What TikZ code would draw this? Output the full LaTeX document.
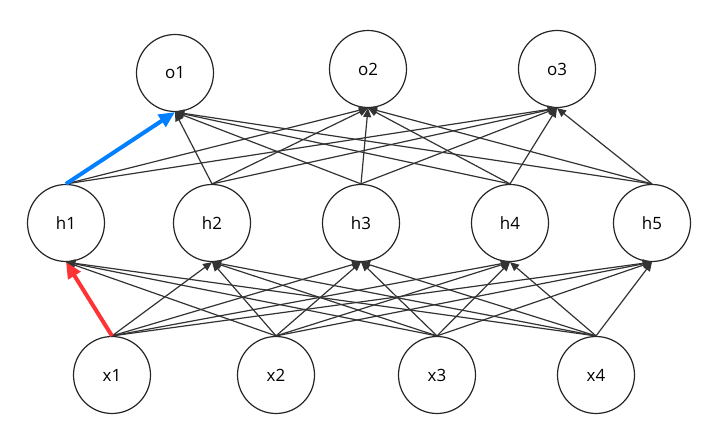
\documentclass[tikz,border=0pt]{standalone}
\usepackage{fontspec}
\setmainfont{Open Sans}
\usetikzlibrary{arrows.meta}
\begin{document}
\begin{tikzpicture}[x=1bp,y=-1bp,
  neuron/.style={circle,draw=black!85,line width=1.2bp,minimum size=77bp,inner sep=0pt,font=\fontsize{17}{20}\selectfont},
  edge/.style={draw=black!80,line width=1.2bp,-{Triangle[length=9bp,width=8bp]}},
  hot/.style={line width=4bp,-{Triangle[length=16bp,width=14bp]}}]
\useasboundingbox (0,0) rectangle (720,442);
\node[neuron] (o1) at (175,73) {o1};
\node[neuron] (o2) at (368,69) {o2};
\node[neuron] (o3) at (557,69) {o3};
\node[neuron] (h1) at (66,223) {h1};
\node[neuron] (h2) at (212,223) {h2};
\node[neuron] (h3) at (361,223) {h3};
\node[neuron] (h4) at (510,223) {h4};
\node[neuron] (h5) at (652,223) {h5};
\node[neuron] (x1) at (112,375) {x1};
\node[neuron] (x2) at (276,375) {x2};
\node[neuron] (x3) at (437,375) {x3};
\node[neuron] (x4) at (596,375) {x4};
\foreach \i in {1,2,3,4}{
  \foreach \j in {1,2,3,4,5}{
    \ifnum\i\j=11\else
    \draw[edge] (x\i.north) -- (h\j.south);
    \fi
  }}
\foreach \i in {1,2,3,4,5}{
  \foreach \j in {1,2,3}{
    \ifnum\i\j=11\else
    \draw[edge] (h\i.north) -- (o\j.south);
    \fi
  }}
\draw[edge,hot,draw={rgb,255:red,255;green,51;blue,51},fill={rgb,255:red,255;green,51;blue,51}] (x1.north) -- (h1.south);
\draw[edge,hot,draw={rgb,255:red,0;green,127;blue,255},fill={rgb,255:red,0;green,127;blue,255}] (h1.north) -- (o1.south);
\end{tikzpicture}
\end{document}
